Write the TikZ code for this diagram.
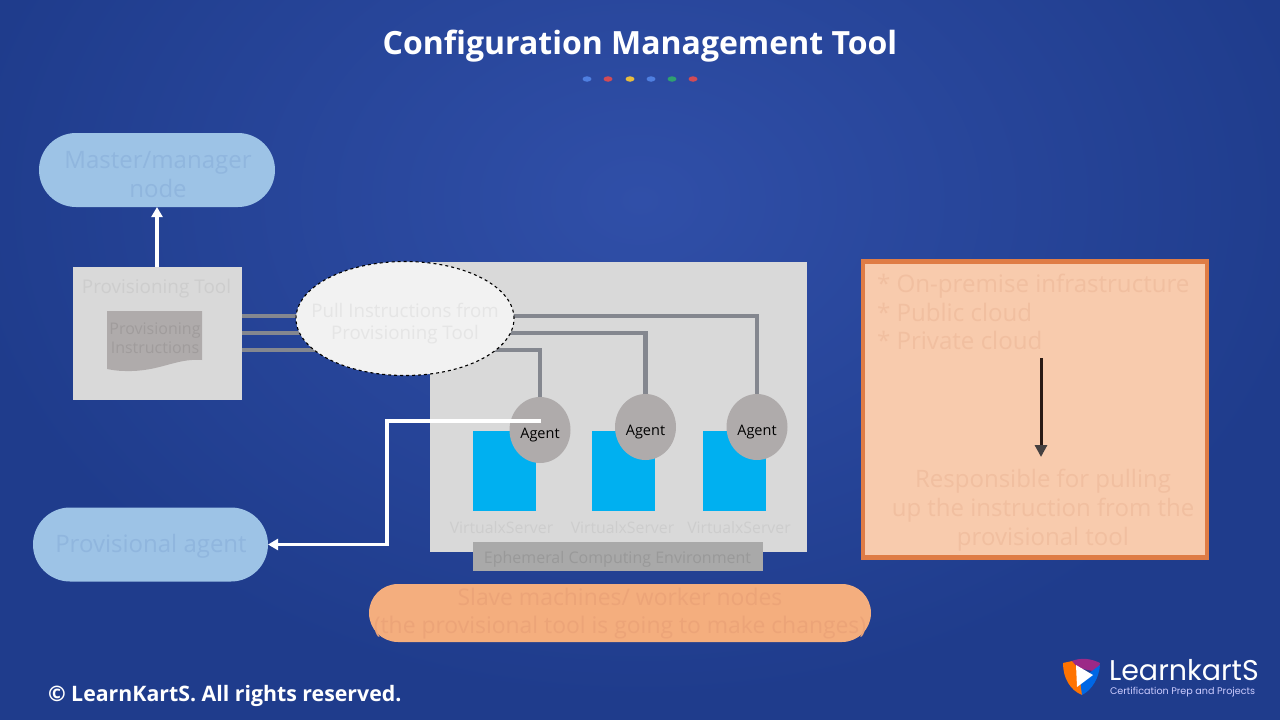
\documentclass[tikz,border=0pt]{standalone}
\usepackage{fontspec}
\setmainfont{Open Sans}
\usetikzlibrary{shapes.geometric,shapes.misc,arrows.meta}
\newfontfamily\logofont{Poppins}
\definecolor{bgmid}{HTML}{304FA8}
\definecolor{bgedge}{HTML}{1F3C8C}
\definecolor{panelgray}{HTML}{D9D9D9}
\definecolor{paneltext}{HTML}{CDCDCD}
\definecolor{pillblue}{HTML}{9DC3E6}
\definecolor{pillbluetext}{HTML}{90B6DE}
\definecolor{pillorange}{HTML}{F4AE7E}
\definecolor{pillorangetext}{HTML}{ECA478}
\definecolor{peach}{HTML}{F8CBAD}
\definecolor{peachtext}{HTML}{F1BFA0}
\definecolor{peachedge}{HTML}{DF7C45}
\definecolor{agentgray}{HTML}{AFABAB}
\definecolor{doctext}{HTML}{A09C9C}
\definecolor{cyanbox}{HTML}{00B0F0}
\definecolor{wire}{HTML}{84878F}
\definecolor{bargray}{HTML}{A9A9A9}
\definecolor{bartext}{HTML}{999999}
\definecolor{dotblue}{HTML}{4F7FE0}
\definecolor{dotred}{HTML}{D24B55}
\definecolor{dotyellow}{HTML}{E8BC3E}
\definecolor{dotgreen}{HTML}{2FA070}
\definecolor{darkarrow}{HTML}{2A1A14}
\definecolor{arrowhead}{HTML}{454040}
\tikzset{
  x=1pt,y=-1pt,
  boxnode/.style={inner sep=0pt,outer sep=0pt,align=center},
  pill/.style={boxnode,rounded rectangle},
  wireline/.style={draw=wire,line width=4.5pt},
  whitearrow/.style={draw=white,line width=3.5pt,-{Triangle[width=11pt,length=10pt]}},
  vm/.style={boxnode,fill=cyanbox,minimum width=63pt,minimum height=80pt},
  agentnode/.style={boxnode,ellipse,fill=agentgray,minimum width=61pt,minimum height=66pt},
  agentlabel/.style={boxnode,text=black,font=\fontsize{14.5}{17}\selectfont},
  vmlabel/.style={boxnode,text=paneltext,font=\fontsize{15.8}{18}\selectfont},
  dot/.style={boxnode,ellipse,minimum width=9pt,minimum height=5.5pt}
}
\begin{document}
\begin{tikzpicture}
\useasboundingbox (0,0) rectangle (1280,720);
\begin{scope}
\clip (0,0) rectangle (1280,720);
\shade[inner color=bgmid,outer color=bgedge] (-40,-300) rectangle (1320,700);
\fill[bgedge] (-40,700) rectangle (1320,720);
\end{scope}
% title
\node[boxnode,text=white,font=\bfseries\fontsize{32}{36}\selectfont] (title) at (640,46) {Configuration Management Tool};
\node[dot,fill=dotblue] (d1) at (587,79) {};
\node[dot,fill=dotred] (d2) at (608,79) {};
\node[dot,fill=dotyellow] (d3) at (630,79) {};
\node[dot,fill=dotblue] (d4) at (651,79) {};
\node[dot,fill=dotgreen] (d5) at (672,79) {};
\node[dot,fill=dotred] (d6) at (693,79) {};
% panel
\node[boxnode,fill=panelgray,minimum width=377pt,minimum height=290pt] (panel) at (618.5,407) {};
% nodes
\node[pill,fill=pillblue,minimum width=236pt,minimum height=74pt] (master) at (157,170) {};
\node[boxnode,text=pillbluetext,font=\fontsize{24}{29}\selectfont] (mastert) at (158,175) {Master/manager\\node};
\node[boxnode,fill=panelgray,minimum width=169pt,minimum height=133pt] (prov) at (157.5,333.5) {};
\node[boxnode,text=paneltext,font=\fontsize{18.9}{21}\selectfont] (provlabel) at (156.5,289) {Provisioning Tool};
\fill[agentgray] (107,311) -- (202,311) -- (202,360) .. controls (175,358) and (160,372) .. (125,371) .. controls (118,371) and (112,370) .. (107,369) -- cycle;
\node[boxnode,text=doctext,font=\fontsize{16}{18.8}\selectfont] (doclabel) at (155,338) {Provisioning\\Instructions};
\node[pill,fill=pillblue,minimum width=235pt,minimum height=74pt] (agentpill) at (150.5,544.5) {};
\node[boxnode,text=pillbluetext,font=\fontsize{24}{29}\selectfont] (agentpillt) at (151,546.5) {Provisional agent};
\node[vm] (vm1) at (504,471) {};
\node[vm] (vm2) at (623.5,471) {};
\node[vm] (vm3) at (734,471) {};
\node[agentnode] (agent1) at (540,430) {};
\node[agentnode] (agent2) at (645.5,427) {};
\node[agentnode] (agent3) at (757,427) {};
\node[agentlabel] (a1t) at (540,435) {Agent};
\node[agentlabel] (a2t) at (645.5,432) {Agent};
\node[agentlabel] (a3t) at (757,432) {Agent};
\node[vmlabel] (v1) at (501.5,528) {VirtualxServer};
\node[vmlabel] (v2) at (622.5,528) {VirtualxServer};
\node[vmlabel] (v3) at (739,528) {VirtualxServer};
\node[boxnode,fill=bargray,minimum width=290pt,minimum height=29pt] (bar) at (618,556.5) {};
\node[boxnode,text=bartext,font=\fontsize{16}{18}\selectfont] (bart) at (617.5,559) {Ephemeral Computing Environment};
\node[pill,fill=pillorange,minimum width=502pt,minimum height=58pt] (slave) at (620,613) {};
\node[boxnode,text=pillorangetext,font=\fontsize{22.9}{28}\selectfont] (slavet) at (620,614) {Slave machines/ worker nodes\\(the provisional tool is going to make changes)};
% connectors
\coordinate (l1) at (0,316);
\coordinate (l2) at (0,333);
\coordinate (l3) at (0,350);
\draw[wireline] (prov.east |- l1) -- (agent3.north |- l1) -- (agent3.north);
\draw[wireline] (prov.east |- l2) -- (agent2.north |- l2) -- (agent2.north);
\draw[wireline] (prov.east |- l3) -- (agent1.north |- l3) -- (agent1.north);
\node[boxnode,ellipse,fill=white!95!black,draw=black,dashed,line width=1.1pt,minimum width=218pt,minimum height=114pt] (pull) at (405,318.5) {};
\node[boxnode,text=black!10,font=\fontsize{18.7}{22}\selectfont] (pullt) at (405,324) {Pull Instructions from\\Provisioning Tool};
\draw[whitearrow] (prov.north -| master) -- (master.south);
\coordinate (wstart) at (541,421);
\coordinate (welbow) at (387,421);
\draw[whitearrow] (wstart) -- (welbow) -- (welbow |- agentpill.east) -- (agentpill.east);
% right box
\node[boxnode,fill=peach,draw=peachedge,line width=4.5pt,minimum width=344pt,minimum height=296pt] (right) at (1035,409.5) {};
\node[boxnode,anchor=west,align=left,text=peachtext,font=\fontsize{24.1}{28.6}\selectfont] (rtop) at (877,312) {* On-premise infrastructure\\* Public cloud\\* Private cloud};
\node[boxnode,text=peachtext,font=\fontsize{24}{29}\selectfont] (rbot) at (1043,510.5) {Responsible for pulling\\up the instruction from the\\provisional tool};
\coordinate (rstart) at (1041,358);
\coordinate (rend) at (1041,457);
\draw[draw=darkarrow,line width=3pt,-{Triangle[width=12pt,length=12pt,color=arrowhead]}] (rstart) -- (rend);
% footer
\node[boxnode,anchor=west,text=white,font=\bfseries\fontsize{21.3}{24}\selectfont] (copy) at (48,696) {© LearnKartS. All rights reserved.};
% logo
\fill[orange!90!red] (1063,663) .. controls (1072,661) and (1078,660) .. (1082,659) -- (1082,695) .. controls (1070,690) and (1063,678) .. (1063,663) -- cycle;
\fill[magenta!65!blue!85!black] (1072,661) .. controls (1082,657) and (1092,659) .. (1100,663) -- (1098,672) -- (1078,668) -- cycle;
\fill[blue!55!cyan!90!black] (1082,695) .. controls (1092,690) and (1099,678) .. (1100,665) -- (1080,680) -- cycle;
\fill[white] (1076,665) -- (1093,675) -- (1077,687) -- cycle;
\node[boxnode,anchor=west,text=white,font=\logofont\fontsize{28.5}{32}\selectfont] (logo) at (1109,670) {LearnkartS};
\node[boxnode,anchor=west,text=white!80!blue,font=\logofont\fontsize{9.6}{11}\selectfont] (logosub) at (1110,692) {Certification Prep and Projects};
\end{tikzpicture}
\end{document}
